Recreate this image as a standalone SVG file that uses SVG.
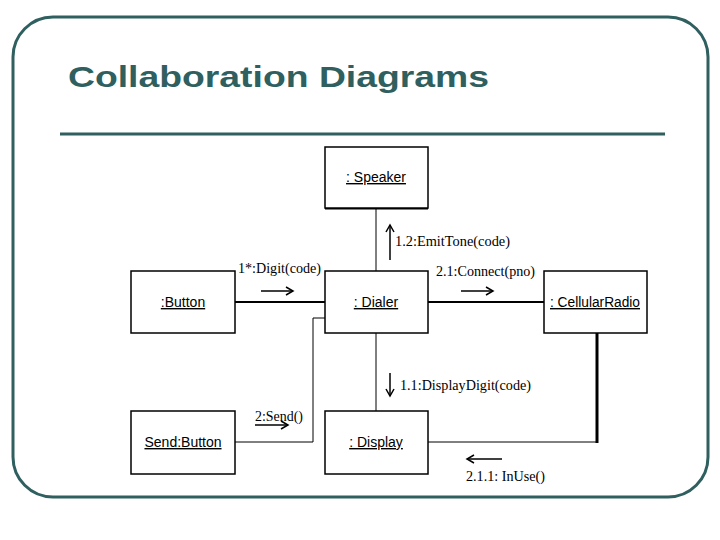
<svg xmlns="http://www.w3.org/2000/svg" width="720" height="540" viewBox="0 0 720 540">
<style>
.box{fill:#fff;stroke:#000;stroke-width:1.5}
.shadow{stroke:#000;stroke-width:3}
.nl{font-family:"Liberation Sans",Arial,sans-serif;font-size:14px;text-decoration:underline;text-anchor:middle}
.lb{font-family:"Liberation Serif","Times New Roman",serif;font-size:14px}
.ln{stroke:#000;fill:none}
.ar{stroke:#000;stroke-width:1.5;fill:none}
</style>
<defs><marker id="ah" markerWidth="10" markerHeight="10" refX="8" refY="5" orient="auto" markerUnits="userSpaceOnUse"><path d="M1,1 L8,5 L1,9" fill="none" stroke="#000" stroke-width="1.5"/></marker></defs>
<rect x="13" y="17" width="695" height="480" rx="40" fill="#fff" stroke="#2F5F5F" stroke-width="3"/>
<text x="68" y="87" font-family="'Liberation Sans',Arial,sans-serif" font-weight="bold" font-size="30" fill="#2F5F5F" textLength="421" lengthAdjust="spacingAndGlyphs">Collaboration Diagrams</text>
<line x1="60" y1="134" x2="665" y2="134" stroke="#2F5F5F" stroke-width="3"/>
<g id="connectors">
<line class="ln" x1="376" y1="208" x2="376" y2="271"/>
<line class="ln" x1="235" y1="302" x2="325" y2="302" stroke-width="2"/>
<line class="ln" x1="428" y1="302" x2="544" y2="302" stroke-width="2"/>
<line class="ln" x1="376" y1="333" x2="376" y2="411"/>
<polyline class="ln" points="235,442 313,442 313,318 325,318"/>
<line class="ln" x1="428" y1="442" x2="597" y2="442"/>
<line class="ln" x1="597" y1="333" x2="597" y2="443" stroke-width="3"/>
<line class="ar" x1="390" y1="260" x2="390" y2="225" marker-end="url(#ah)"/>
<line class="ar" x1="261" y1="291" x2="293" y2="291" marker-end="url(#ah)"/>
<line class="ar" x1="461" y1="291" x2="493" y2="291" marker-end="url(#ah)"/>
<line class="ar" x1="390" y1="373" x2="390" y2="396" marker-end="url(#ah)"/>
<line class="ar" x1="255" y1="425" x2="288" y2="425" marker-end="url(#ah)"/>
<line class="ar" x1="502" y1="459" x2="467" y2="459" marker-end="url(#ah)"/>
<text class="lb" x="395" y="246" textLength="115" lengthAdjust="spacingAndGlyphs">1.2:EmitTone(code)</text>
<text class="lb" x="238" y="273" textLength="83" lengthAdjust="spacingAndGlyphs">1*:Digit(code)</text>
<text class="lb" x="436" y="276" textLength="99" lengthAdjust="spacingAndGlyphs">2.1:Connect(pno)</text>
<text class="lb" x="400" y="390" textLength="131" lengthAdjust="spacingAndGlyphs">1.1:DisplayDigit(code)</text>
<text class="lb" x="255" y="421" textLength="48" lengthAdjust="spacingAndGlyphs">2:Send()</text>
<text class="lb" x="466" y="481" textLength="79" lengthAdjust="spacingAndGlyphs">2.1.1: InUse()</text>
</g>
<g id="speaker"><line class="shadow" x1="325" y1="208" x2="428" y2="208"/><rect class="box" x="325" y="147" width="103" height="61"/><text class="nl" x="376" y="182">: Speaker</text></g>
<g id="button"><rect class="box" x="131" y="271" width="104" height="62"/><text class="nl" x="183" y="307">:Button</text></g>
<g id="dialer"><rect class="box" x="325" y="271" width="103" height="62"/><text class="nl" x="376" y="307">: Dialer</text></g>
<g id="radio"><rect class="box" x="544" y="271" width="103" height="62"/><text class="nl" x="595" y="307" textLength="90" lengthAdjust="spacingAndGlyphs">: CellularRadio</text></g>
<g id="sendbutton"><rect class="box" x="131" y="411" width="104" height="63"/><text class="nl" x="183" y="447">Send:Button</text></g>
<g id="display"><rect class="box" x="325" y="411" width="103" height="63"/><text class="nl" x="376" y="447">: Display</text></g>
</svg>
